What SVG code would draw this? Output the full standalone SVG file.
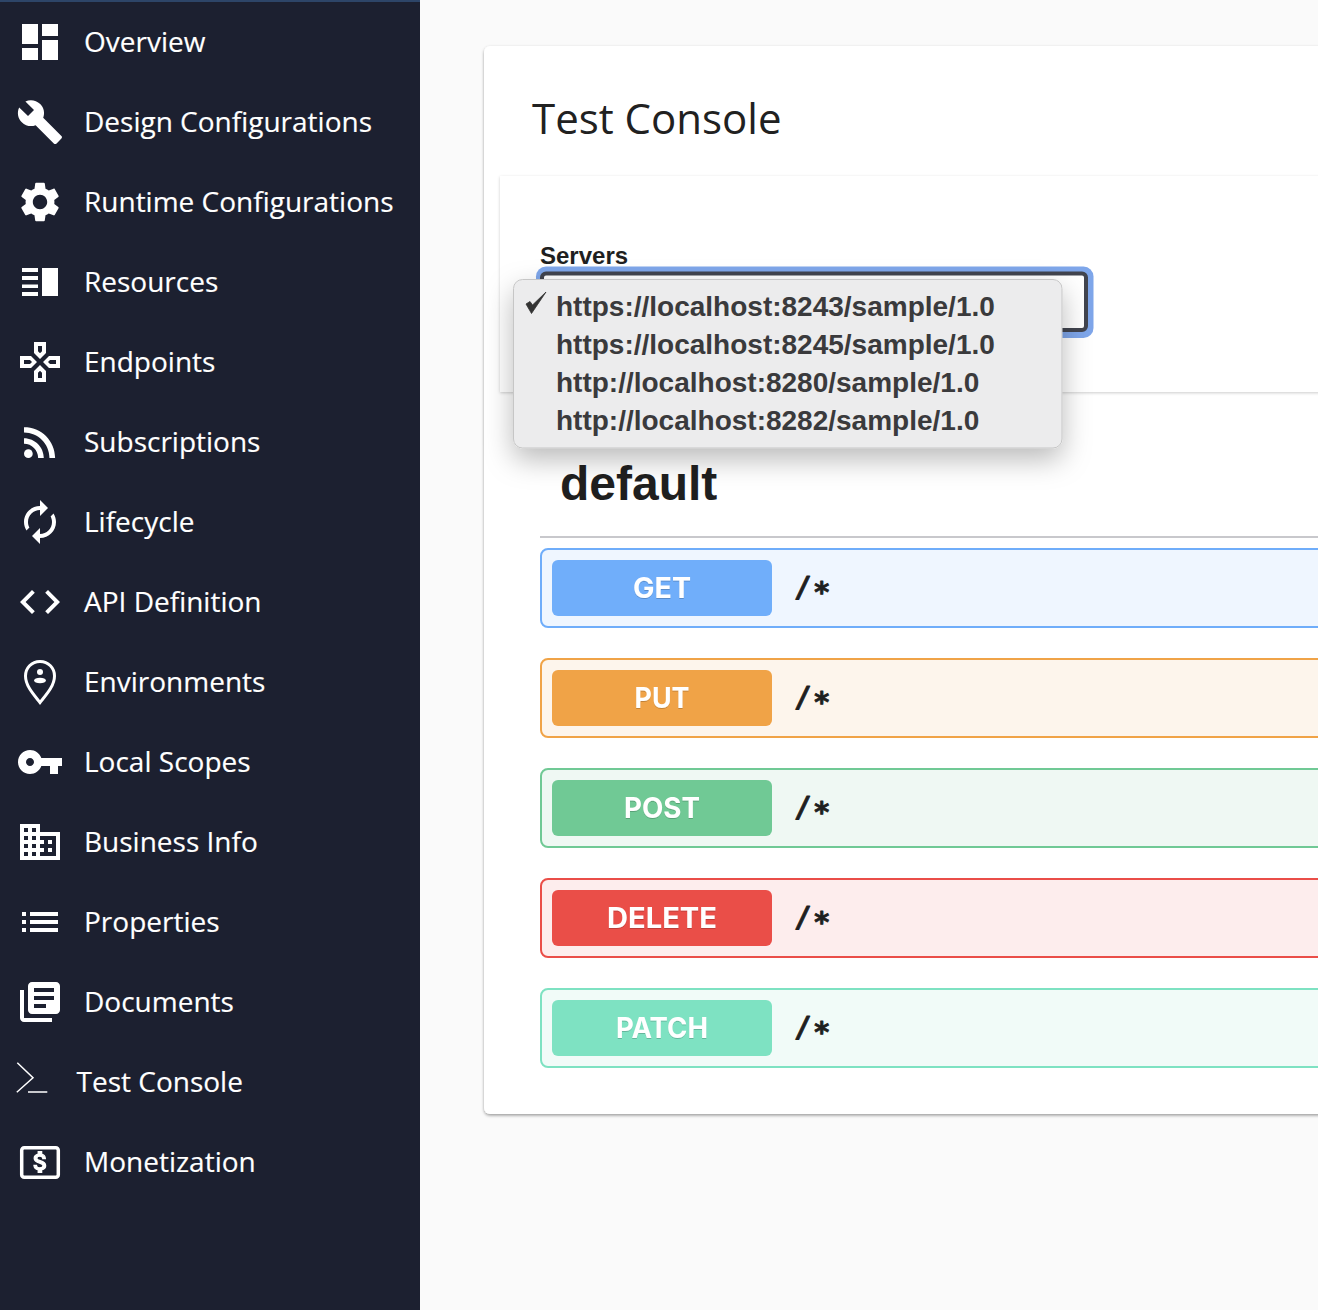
<svg xmlns="http://www.w3.org/2000/svg" width="1318" height="1310" viewBox="0 0 1318 1310">
<style>
.nav{font-family:"Open Sans","Noto Sans",sans-serif;font-size:28px;fill:#fff;stroke:#fff;stroke-width:.15px;transform:translateY(-.6px)}
.ic{fill:#fff}
.url{font-family:"Liberation Sans",Arial,sans-serif;font-size:28px;font-weight:700;fill:#3a3a3c}
.m{font-family:"Inter","Liberation Sans",sans-serif;font-size:28px;font-weight:700;fill:#fff;text-anchor:middle}
.p{font-family:"DejaVu Sans Mono",monospace;font-size:29px;font-weight:700;fill:#1f1f1f;stroke:#1f1f1f;stroke-width:.8px;stroke-linejoin:round;letter-spacing:1.500px}
</style>
<defs>
<filter id="card" x="-5%" y="-5%" width="110%" height="110%"><feDropShadow dx="0" dy="1.500" stdDeviation="1.800" flood-color="#000" flood-opacity=".38"/></filter>
<filter id="soft" x="-5%" y="-5%" width="110%" height="110%"><feDropShadow dx="0" dy="1" stdDeviation="1.500" flood-color="#000" flood-opacity=".2"/></filter>
<filter id="pop" x="-15%" y="-30%" width="130%" height="180%"><feDropShadow dx="0" dy="11" stdDeviation="14" flood-color="#000" flood-opacity=".27"/></filter>
<filter id="ts" x="-10%" y="-20%" width="120%" height="150%"><feDropShadow dx="0" dy="1" stdDeviation=".6" flood-color="#000" flood-opacity=".2"/></filter>
</defs>
<rect width="1318" height="1310" fill="#fafafa"/>
<g id="sidebar">
<rect width="420" height="1310" fill="#1c2030"/>
<rect width="420" height="2" fill="#2d4568"/>
</g>
<g id="nav-overview"><path class="ic" transform="translate(16 18) scale(2)" d="M3 13h8V3H3v10zm0 8h8v-6H3v6zm10 0h8V11h-8v10zm0-18v6h8V3h-8z"/><text class="nav" x="84" y="53">Overview</text></g>
<g id="nav-design"><path class="ic" transform="translate(16 98) scale(2)" d="M22.7 19l-9.1-9.1c.9-2.3.4-5-1.5-6.9-2-2-5-2.4-7.4-1.3L9 6 6 9 1.6 4.7C.4 7.1.9 10.1 2.9 12.1c1.9 1.9 4.6 2.4 6.9 1.5l9.1 9.1c.4.4 1 .4 1.4 0l2.3-2.3c.5-.4.5-1.1.1-1.4z"/><text class="nav" x="84" y="133">Design Configurations</text></g>
<g id="nav-runtime"><path class="ic" transform="translate(16 178) scale(2)" d="M19.14 12.94c.04-.3.06-.61.06-.94 0-.32-.02-.64-.07-.94l2.03-1.58c.18-.14.23-.41.12-.61l-1.92-3.32c-.12-.22-.37-.29-.59-.22l-2.39.96c-.5-.38-1.03-.7-1.62-.94l-.36-2.54c-.04-.24-.24-.41-.48-.41h-3.84c-.24 0-.43.17-.47.41l-.36 2.54c-.59.24-1.13.57-1.62.94l-2.39-.96c-.22-.08-.47 0-.59.22L2.74 8.87c-.12.21-.08.47.12.61l2.03 1.58c-.05.3-.09.63-.09.94s.02.64.07.94l-2.03 1.58c-.18.14-.23.41-.12.61l1.92 3.32c.12.22.37.29.59.22l2.39-.96c.5.38 1.03.7 1.62.94l.36 2.54c.05.24.24.41.48.41h3.84c.24 0 .44-.17.47-.41l.36-2.54c.59-.24 1.13-.56 1.62-.94l2.39.96c.22.08.47 0 .59-.22l1.92-3.32c.12-.22.07-.47-.12-.61l-2.01-1.58zM12 15.6c-1.98 0-3.6-1.62-3.6-3.6s1.62-3.6 3.6-3.6 3.6 1.62 3.6 3.6-1.62 3.6-3.6 3.6z"/><text class="nav" x="84" y="213">Runtime Configurations</text></g>
<g id="nav-resources"><path class="ic" d="M22 268h16v4H22zM22 276h16v4H22zM22 284.500h16v3.500H22zM22 292h16v4H22zM42 268h16v28H42z"/><text class="nav" x="84" y="293">Resources</text></g>
<g id="nav-endpoints"><path class="ic" transform="translate(16 338) scale(2)" d="M15 7.500V2H9v5.500l3 3 3-3zM11 4h2v2.670l-1 1-1-1V4zm-3.500 5H2v6h5.500l3-3-3-3zM7 13H4v-2h3l1 1-1 1zm2 3.500V22h6v-5.500l-3-3-3 3zm2 3.500v-2.670l1-1 1 1V20h-2zm5.500-11l-3 3 3 3H22V9h-5.500zM20 13h-3l-1-1 1-1h3v2z"/><text class="nav" x="84" y="373">Endpoints</text></g>
<g id="nav-subscriptions"><g class="ic" transform="translate(16 418) scale(2)"><circle cx="6.180" cy="17.820" r="2.180"/><path d="M4 4.440v2.830c7.030 0 12.730 5.700 12.730 12.730h2.830c0-8.590-6.970-15.560-15.560-15.560zm0 5.660v2.830c3.900 0 7.070 3.170 7.070 7.070h2.830c0-5.470-4.430-9.900-9.900-9.900z"/></g><text class="nav" x="84" y="453">Subscriptions</text></g>
<g id="nav-lifecycle"><path class="ic" transform="translate(64 498) scale(-2 2)" d="M12 4V1L8 5l4 4V6c3.310 0 6 2.690 6 6 0 1.010-.25 1.970-.7 2.800l1.460 1.460C19.540 15.030 20 13.570 20 12c0-4.420-3.580-8-8-8zm0 14c-3.310 0-6-2.690-6-6 0-1.010.25-1.970.7-2.800L5.240 7.740C4.460 8.970 4 10.430 4 12c0 4.420 3.580 8 8 8v3l4-4-4-4v3z"/><text class="nav" x="84" y="533">Lifecycle</text></g>
<g id="nav-api"><path class="ic" transform="translate(16 578) scale(2)" d="M9.400 16.600L4.800 12l4.600-4.600L8 6l-6 6 6 6 1.400-1.400zm5.200 0l4.600-4.600-4.600-4.600L16 6l6 6-6 6-1.400-1.400z"/><text class="nav" x="84" y="613">API Definition</text></g>
<g id="nav-environments"><path d="M40 661.500C31.500 661.500 25.500 668 25.500 676C25.500 686 34 695 40 702.500C46 695 54.500 686 54.500 676C54.500 668 48.500 661.500 40 661.500z" fill="none" stroke="#fff" stroke-width="3"/><circle class="ic" cx="40" cy="672" r="3"/><ellipse class="ic" cx="40" cy="680.500" rx="6" ry="2.800"/><text class="nav" x="84" y="693">Environments</text></g>
<g id="nav-scopes"><path class="ic" transform="translate(16 738) scale(2)" d="M12.650 10C11.830 7.670 9.610 6 7 6c-3.310 0-6 2.690-6 6s2.690 6 6 6c2.610 0 4.830-1.670 5.650-4H17v4h4v-4h2v-4H12.650zM7 14c-1.100 0-2-.9-2-2s.9-2 2-2 2 .9 2 2-.9 2-2 2z"/><text class="nav" x="84" y="773">Local Scopes</text></g>
<g id="nav-business"><path class="ic" transform="translate(16 818) scale(2)" d="M12 7V3H2v18h20V7H12zM6 19H4v-2h2v2zm0-4H4v-2h2v2zm0-4H4V9h2v2zm0-4H4V5h2v2zm4 12H8v-2h2v2zm0-4H8v-2h2v2zm0-4H8V9h2v2zm0-4H8V5h2v2zm10 12h-8v-2h2v-2h-2v-2h2v-2h-2V9h8v10zm-2-8h-2v2h2v-2zm0 4h-2v2h2v-2z"/><text class="nav" x="84" y="853">Business Info</text></g>
<g id="nav-properties"><path class="ic" transform="translate(16 898) scale(2)" d="M3 13h2v-2H3v2zm0 4h2v-2H3v2zm0-8h2V7H3v2zm4 4h14v-2H7v2zm0 4h14v-2H7v2zM7 7v2h14V7H7z"/><text class="nav" x="84" y="933">Properties</text></g>
<g id="nav-documents"><path class="ic" transform="translate(16 978) scale(2)" d="M4 6H2v14c0 1.100.9 2 2 2h14v-2H4V6zm16-4H8c-1.100 0-2 .9-2 2v12c0 1.100.9 2 2 2h12c1.100 0 2-.9 2-2V4c0-1.100-.9-2-2-2zm-1 9H9V9h10v2zm-4 4H9v-2h6v2zm4-8H9V5h10v2z"/><text class="nav" x="84" y="1013">Documents</text></g>
<g id="nav-console"><path d="M17.300 1062.700L33 1077.700L16.800 1092.300M28 1092H47.300" fill="none" stroke="#fff" stroke-width="1.500"/><text class="nav" x="76.500" y="1093">Test Console</text></g>
<g id="nav-monetization"><rect x="21.700" y="1147.700" width="36.600" height="29.600" rx="2.500" fill="none" stroke="#fff" stroke-width="3.500"/><path class="ic" transform="translate(26.700 1148.200) scale(1.150)" stroke="#fff" stroke-width="1.100" d="M11.800 10.900c-2.270-.59-3-1.200-3-2.150 0-1.090 1.010-1.850 2.700-1.850 1.780 0 2.440.85 2.500 2.100h2.210c-.07-1.720-1.120-3.300-3.210-3.810V3h-3v2.160c-1.940.42-3.500 1.680-3.500 3.610 0 2.310 1.910 3.460 4.700 4.130 2.500.6 3 1.480 3 2.410 0 .69-.49 1.790-2.700 1.790-2.060 0-2.870-.92-2.980-2.100h-2.200c.12 2.190 1.760 3.420 3.680 3.830V21h3v-2.150c1.950-.37 3.500-1.500 3.500-3.550 0-2.840-2.430-3.810-4.700-4.400z"/><text class="nav" x="84" y="1173">Monetization</text></g>
<g id="card-main"><rect x="484" y="46" width="860" height="1068" rx="6" fill="#fff" filter="url(#card)"/>
<text x="532" y="134" font-family="'Open Sans','Noto Sans',sans-serif" font-size="42" fill="#212121">Test Console</text></g>
<g id="servers-panel"><rect x="500" y="176" width="840" height="216" fill="#fff" filter="url(#soft)"/>
<text x="540" y="264" font-family="'Liberation Sans',Arial,sans-serif" font-size="24" font-weight="700" fill="#1f1f1f">Servers</text>
<rect x="536" y="266.500" width="557.500" height="71.500" rx="10" fill="#7ea6ea"/>
<rect x="542" y="273.500" width="544" height="56.500" rx="4" fill="#fff" stroke="#41444e" stroke-width="4"/></g>
<g id="heading-default"><text x="560" y="500" font-family="'Liberation Sans',Arial,sans-serif" font-size="48" font-weight="700" fill="#1f1f1f">default</text>
<rect x="540" y="536" width="800" height="2" fill="#c8c8cc"/></g>
<g id="op-get"><rect x="541" y="549" width="800" height="78" rx="7" fill="#eff6ff" stroke="#6fadfa" stroke-width="2"/><rect x="552" y="560" width="220" height="56" rx="6" fill="#70aefa"/><text class="m" x="662" y="598" textLength="58" lengthAdjust="spacingAndGlyphs" filter="url(#ts)">GET</text><text class="p" x="794" y="597">/<tspan dy="5">*</tspan></text></g>
<g id="op-put"><rect x="541" y="659" width="800" height="78" rx="7" fill="#fdf5ec" stroke="#f0a347" stroke-width="2"/><rect x="552" y="670" width="220" height="56" rx="6" fill="#f0a347"/><text class="m" x="662" y="708" textLength="55" lengthAdjust="spacingAndGlyphs" filter="url(#ts)">PUT</text><text class="p" x="794" y="707">/<tspan dy="5">*</tspan></text></g>
<g id="op-post"><rect x="541" y="769" width="800" height="78" rx="7" fill="#eff8f3" stroke="#70c995" stroke-width="2"/><rect x="552" y="780" width="220" height="56" rx="6" fill="#70c995"/><text class="m" x="662" y="818" textLength="76" lengthAdjust="spacingAndGlyphs" filter="url(#ts)">POST</text><text class="p" x="794" y="817">/<tspan dy="5">*</tspan></text></g>
<g id="op-delete"><rect x="541" y="879" width="800" height="78" rx="7" fill="#fdeded" stroke="#ea4e48" stroke-width="2"/><rect x="552" y="890" width="220" height="56" rx="6" fill="#ea4e48"/><text class="m" x="662" y="928" textLength="110" lengthAdjust="spacingAndGlyphs" filter="url(#ts)">DELETE</text><text class="p" x="794" y="927">/<tspan dy="5">*</tspan></text></g>
<g id="op-patch"><rect x="541" y="989" width="800" height="78" rx="7" fill="#f1fbf8" stroke="#7ee2c2" stroke-width="2"/><rect x="552" y="1000" width="220" height="56" rx="6" fill="#7ee2c2"/><text class="m" x="662" y="1038" textLength="92" lengthAdjust="spacingAndGlyphs" filter="url(#ts)">PATCH</text><text class="p" x="794" y="1037">/<tspan dy="5">*</tspan></text></g>
<g id="dropdown"><rect x="513.500" y="279.500" width="548.500" height="168.500" rx="9" fill="#ececed" stroke="#c6c6c6" filter="url(#pop)"/>
<path d="M526 304L531.500 313.500L546 292L532.500 305L530 301.500z" fill="#333" stroke="#333" stroke-width=".8" stroke-linejoin="round"/>
<text class="url" x="556" y="316">https://localhost:8243/sample/1.0</text>
<text class="url" x="556" y="354">https://localhost:8245/sample/1.0</text>
<text class="url" x="556" y="392">http://localhost:8280/sample/1.0</text>
<text class="url" x="556" y="430">http://localhost:8282/sample/1.0</text></g>
<g id="connectors"></g>
</svg>
